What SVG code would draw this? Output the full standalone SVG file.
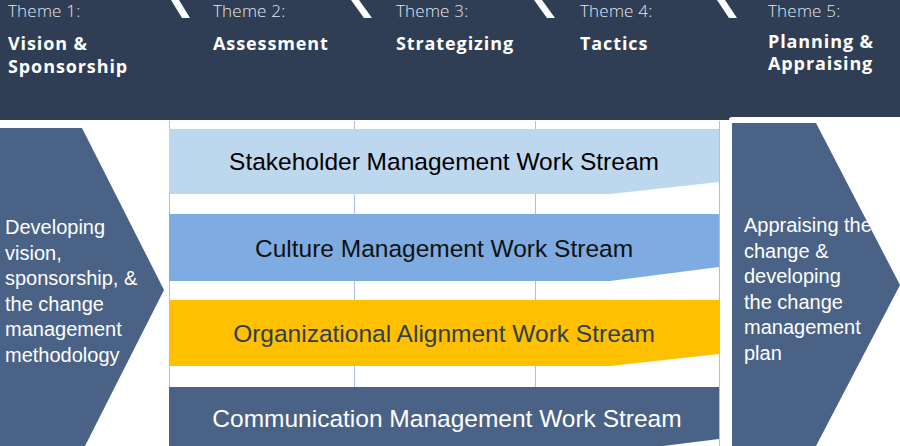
<svg xmlns="http://www.w3.org/2000/svg" width="900" height="446" viewBox="0 0 900 446">
  <style>
    .theme { font-family: "Open Sans", "Noto Sans", sans-serif; font-size: 17px; font-weight: 300; fill: #e4e8ee; letter-spacing: 0.2px; }
    .title { font-family: "Open Sans", "Noto Sans", sans-serif; font-size: 18px; font-weight: 700; fill: #ffffff; letter-spacing: 0.9px; }
    .arrowtxt { font-family: "Liberation Sans", Arial, sans-serif; font-size: 20px; fill: #ffffff; }
    .stream { font-family: "Liberation Sans", Arial, sans-serif; font-size: 24.5px; text-anchor: middle; }
    .slash { fill: #ffffff; }
    .grid { stroke: #a9c1e8; stroke-width: 1; fill: none; }
    .dark { fill: #4a6285; }
  </style>
  <rect x="0" y="0" width="900" height="446" fill="#ffffff"/>

  <g id="header">
    <rect x="0" y="0" width="900" height="120" fill="#2f3d55"/>
    <polygon class="slash" points="171,0 179,0 190,18 182,18"/>
    <polygon class="slash" points="351,0 359,0 372,18 364,18"/>
    <polygon class="slash" points="534,0 542,0 555,18 547,18"/>
    <polygon class="slash" points="717,0 725,0 737,18 729,18"/>
  </g>

  <g id="theme1">
    <text class="theme" x="8" y="17">Theme 1:</text>
    <text class="title" x="8" y="50">Vision &amp;</text>
    <text class="title" x="8" y="73">Sponsorship</text>
  </g>
  <g id="theme2">
    <text class="theme" x="213" y="17">Theme 2:</text>
    <text class="title" x="213" y="50">Assessment</text>
  </g>
  <g id="theme3">
    <text class="theme" x="396" y="17">Theme 3:</text>
    <text class="title" x="396" y="50">Strategizing</text>
  </g>
  <g id="theme4">
    <text class="theme" x="580" y="17">Theme 4:</text>
    <text class="title" x="580" y="50">Tactics</text>
  </g>
  <g id="theme5">
    <text class="theme" x="768" y="17">Theme 5:</text>
    <text class="title" x="768" y="48">Planning &amp;</text>
    <text class="title" x="768" y="70">Appraising</text>
  </g>

  <g id="grid">
    <line class="grid" x1="169.5" y1="121" x2="169.5" y2="446"/>
    <line class="grid" x1="354.5" y1="121" x2="354.5" y2="446"/>
    <line class="grid" x1="535.5" y1="121" x2="535.5" y2="446"/>
    <line class="grid" x1="719.5" y1="121" x2="719.5" y2="446"/>
  </g>

  <g id="stakeholder">
    <polygon points="169,129 719,129 719,182 610,194 169,194" fill="#bdd7ee"/>
    <text class="stream" x="444" y="170" fill="#000000">Stakeholder Management Work Stream</text>
  </g>
  <g id="culture">
    <polygon points="169,214 719,214 719,267 610,281 169,281" fill="#7eace2"/>
    <text class="stream" x="444" y="257" fill="#111111">Culture Management Work Stream</text>
  </g>
  <g id="organizational">
    <polygon points="169,300 719,300 719,354 610,366 169,366" fill="#ffc000"/>
    <text class="stream" x="444" y="342" fill="#2f3d55">Organizational Alignment Work Stream</text>
  </g>
  <g id="communication">
    <polygon class="dark" points="169,387 719,387 719,439 663,446 169,446"/>
    <text class="stream" x="447" y="427" fill="#ffffff">Communication Management Work Stream</text>
  </g>

  <g id="left-arrow">
    <polygon class="dark" points="0,128 82,128 164,290 85,446 0,446"/>
    <text class="arrowtxt" x="5" y="234">Developing</text>
    <text class="arrowtxt" x="5" y="259.5">vision,</text>
    <text class="arrowtxt" x="5" y="285">sponsorship, &amp;</text>
    <text class="arrowtxt" x="5" y="310.5">the change</text>
    <text class="arrowtxt" x="5" y="336">management</text>
    <text class="arrowtxt" x="5" y="361.5">methodology</text>
  </g>

  <g id="right-arrow">
    <rect x="729" y="117" width="175" height="335" rx="3" fill="#ffffff"/>
    <polygon class="dark" points="732,123 816,123 900,285 816,446 732,446"/>
    <text class="arrowtxt" x="744" y="232">Appraising the</text>
    <text class="arrowtxt" x="744" y="257.5">change &amp;</text>
    <text class="arrowtxt" x="744" y="283">developing</text>
    <text class="arrowtxt" x="744" y="308.5">the change</text>
    <text class="arrowtxt" x="744" y="334">management</text>
    <text class="arrowtxt" x="744" y="359.5">plan</text>
  </g>
</svg>
